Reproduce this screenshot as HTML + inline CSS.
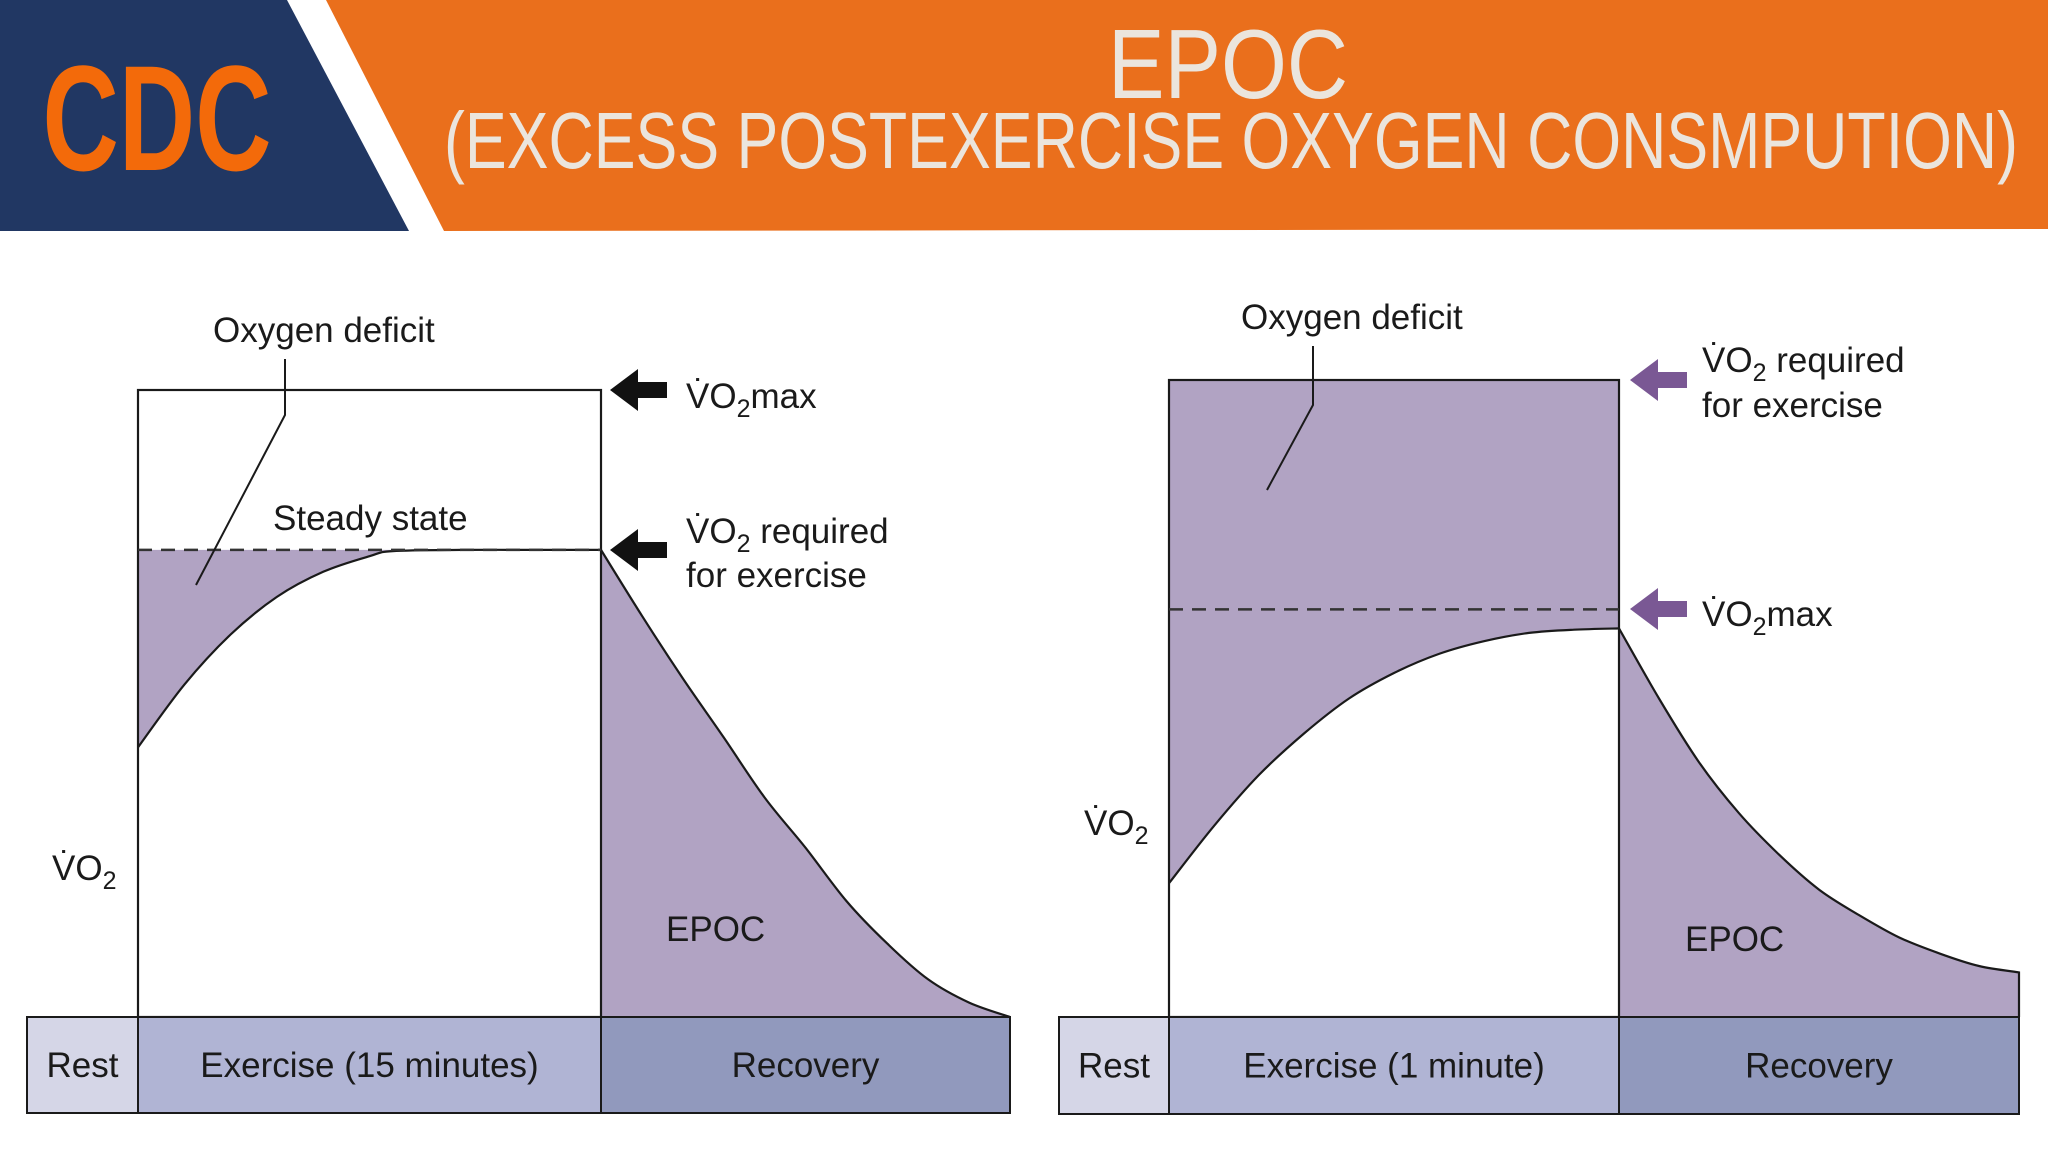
<!DOCTYPE html>
<html><head><meta charset="utf-8"><style>
html,body{margin:0;padding:0;background:#fff;}
svg{display:block;}
text{font-family:"Liberation Sans",sans-serif;}
</style></head><body>
<svg id="s" width="2048" height="1152" viewBox="0 0 2048 1152">
  <g>
    <rect x="0" y="0" width="2048" height="231" fill="#ffffff"/>
    <polygon points="0,0 287,0 409,231 0,231" fill="#213763"/>
    <polygon points="326,0 2048,0 2048,229 444,231" fill="#ea6f1c"/>
    <text x="157" y="170" font-size="150" font-weight="bold" fill="#f36a0a" textLength="229" lengthAdjust="spacingAndGlyphs" text-anchor="middle">CDC</text>
    <text x="1228" y="98" font-size="98" fill="#ebe5dd" text-anchor="middle" textLength="240" lengthAdjust="spacingAndGlyphs">EPOC</text>
    <text x="444" y="168" font-size="80" fill="#ebe5dd" textLength="1574" lengthAdjust="spacingAndGlyphs">(EXCESS POSTEXERCISE OXYGEN CONSMPUTION)</text>
  </g>
  <g id="charts"></g>
</svg>
<script>
// Left panel (15 minutes) data: % of VO2max/required scale
const leftExerciseT = [0,0.1,0.2,0.3,0.4,0.5,0.55,0.7,0.85,1];
const leftExerciseV = [43,53,61,67,71,73.5,74.3,74.5,74.5,74.5];
const leftRecoveryT = [0,0.1,0.2,0.3,0.4,0.5,0.6,0.7,0.8,0.9,1];
const leftRecoveryV = [74.5,64,54,44.6,35,27,18.5,11.7,6,2.3,0];
const leftRequired = 74.5;
const leftMax = 100;
// Right panel (1 minute)
const rightExerciseT = [0,0.1,0.2,0.3,0.4,0.5,0.6,0.7,0.8,0.9,1];
const rightExerciseV = [21,30,38,44.5,50,54,57,59,60.3,60.8,61];
const rightRecoveryT = [0,0.1,0.2,0.3,0.4,0.5,0.6,0.7,0.8,0.9,1];
const rightRecoveryV = [61,50,40,32,25.5,20,16,12.5,10,8,7];
const rightRequired = 100;
const rightMax = 64;
const phaseLabels = ["Rest","Exercise (15 minutes)","Recovery"];
const phaseLabelsR = ["Rest","Exercise (1 minute)","Recovery"];

const NS="http://www.w3.org/2000/svg";
const root=document.getElementById('charts');
function mk(tag,attrs,parent){const e=document.createElementNS(NS,tag);for(const k in attrs)e.setAttribute(k,attrs[k]);(parent||root).appendChild(e);return e;}
function smooth(pts){let d="M"+pts[0][0]+","+pts[0][1];for(let i=0;i<pts.length-1;i++){const p0=pts[Math.max(0,i-1)],p1=pts[i],p2=pts[i+1],p3=pts[Math.min(pts.length-1,i+2)];
 const c1=[p1[0]+(p2[0]-p0[0])/6,p1[1]+(p2[1]-p0[1])/6],c2=[p2[0]-(p3[0]-p1[0])/6,p2[1]-(p3[1]-p1[1])/6];
 d+=" C"+c1[0].toFixed(1)+","+c1[1].toFixed(1)+" "+c2[0].toFixed(1)+","+c2[1].toFixed(1)+" "+p2[0].toFixed(1)+","+p2[1].toFixed(1);}return d;}
function txt(x,y,s,anchor,name,size){const t=mk('text',{x:x,y:y,'font-size':size||35,fill:'#1a1a1a','text-anchor':anchor||'start'});t.textContent=s;
 
 return t;}
function vo2(x,y,suffix,name){const t=mk('text',{x:x,y:y,'font-size':35,fill:'#1a1a1a'});
 
 
 const a=document.createElementNS(NS,'tspan');a.textContent="V\u0307O";t.appendChild(a);
 const b=document.createElementNS(NS,'tspan');b.setAttribute('dy','9');b.setAttribute('font-size','25');b.textContent="2";t.appendChild(b);
 const c=document.createElementNS(NS,'tspan');c.setAttribute('dy','-9');c.textContent=suffix;t.appendChild(c);}
function arrow(tipX,y,color,name){const p=mk('polygon',{points:[[tipX,y],[tipX+28,y-21],[tipX+28,y-8],[tipX+57,y-8],[tipX+57,y+8],[tipX+28,y+8],[tipX+28,y+21]].map(q=>q.join(',')).join(' '),fill:color});
 
 }

function panel(cfg){
 const y=v=>cfg.y0-(v/100)*(cfg.y0-cfg.y100);
 const xe=t=>cfg.xa+t*(cfg.xb-cfg.xa);
 const xr=t=>cfg.xb+t*(cfg.xc-cfg.xb);
 const fill="#b1a3c3";
 const exPts=cfg.exT.map((t,i)=>[xe(t),y(cfg.exV[i])]);
 const recPts=cfg.recT.map((t,i)=>[xr(t),y(cfg.recV[i])]);
 const topY=y(cfg.req);
 const def=mk('path',{d:smooth(exPts)+" L"+cfg.xb+","+topY+" L"+cfg.xa+","+topY+" Z",fill:fill});
 
 
 const ep=mk('path',{d:smooth(recPts)+" L"+cfg.xc+","+cfg.y0+" L"+cfg.xb+","+cfg.y0+" Z",fill:fill});
 
 
 const cl=mk('path',{d:smooth(exPts),fill:'none',stroke:'#1a1a1a','stroke-width':2.2});
 
 
 const rl=mk('path',{d:smooth(recPts)+(cfg.tail?" L"+cfg.xc+","+cfg.y0:""),fill:'none',stroke:'#1a1a1a','stroke-width':2.2});
 
 
 const bx=mk('rect',{x:cfg.xa,y:y(cfg.boxTop),width:cfg.xb-cfg.xa,height:cfg.y0-y(cfg.boxTop),fill:'none',stroke:'#1a1a1a','stroke-width':2.2});
 
 
 const dl=mk('line',{x1:cfg.xa,x2:cfg.xb,y1:y(cfg.dash),y2:y(cfg.dash),stroke:'#333','stroke-width':2.5,'stroke-dasharray':'14,9'});
 
 
 const segs=[[cfg.xr0,cfg.xa,'#d5d6e7'],[cfg.xa,cfg.xb,'#b0b4d4'],[cfg.xb,cfg.xc,'#9199bd']];
 segs.forEach((s,i)=>{const r=mk('rect',{x:s[0],y:cfg.y0,width:s[1]-s[0],height:cfg.barH,fill:s[2],stroke:'#1a1a1a','stroke-width':2});
  
  
  txt((s[0]+s[1])/2,cfg.y0+cfg.barH/2+12,cfg.labels[i],'middle','phase-label-'+['rest','exercise','recovery'][i],35);});
}
panel({xa:138,xb:601,xc:1010,xr0:27,y0:1017,y100:390,barH:96,exT:leftExerciseT,exV:leftExerciseV,recT:leftRecoveryT,recV:leftRecoveryV,req:leftRequired,boxTop:leftMax,dash:leftRequired,labels:phaseLabels,tail:false});
panel({xa:1169,xb:1619,xc:2019,xr0:1059,y0:1017,y100:380,barH:97,exT:rightExerciseT,exV:rightExerciseV,recT:rightRecoveryT,recV:rightRecoveryV,req:rightRequired,boxTop:rightRequired,dash:rightMax,labels:phaseLabelsR,tail:true});

txt(213,342,"Oxygen deficit","start","oxygen-deficit-label-left");
const l1=mk('polyline',{points:"285,359 285,415 196,585",fill:'none',stroke:'#1a1a1a','stroke-width':2});


txt(273,530,"Steady state","start","steady-state-label");
arrow(610,390,'#111','arrow-vo2max-left');
arrow(610,550,'#111','arrow-required-left');
vo2(686,408,"max","vo2max-label-left");
vo2(686,543," required","required-label-left");
txt(686,587,"for exercise","start","for-exercise-label-left");
vo2(52,880,"","y-axis-title-left");
txt(666,941,"EPOC","start","epoc-label-left");
txt(1241,329,"Oxygen deficit","start","oxygen-deficit-label-right");
const l2=mk('polyline',{points:"1313,346 1313,405 1267,490",fill:'none',stroke:'#1a1a1a','stroke-width':2});


arrow(1630,380,'#7a5894','arrow-required-right');
arrow(1630,609,'#7a5894','arrow-vo2max-right');
vo2(1702,372," required","required-label-right");
txt(1702,417,"for exercise","start","for-exercise-label-right");
vo2(1702,626,"max","vo2max-label-right");
vo2(1084,835,"","y-axis-title-right");
txt(1685,951,"EPOC","start","epoc-label-right");
</script>
</body></html>
